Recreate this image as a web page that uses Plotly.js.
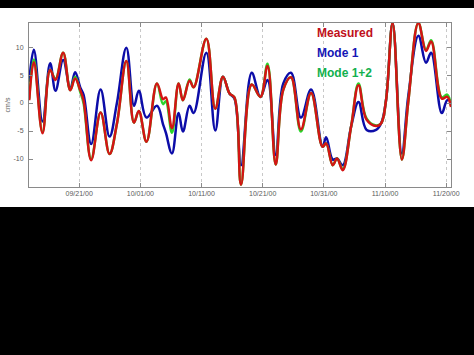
<!DOCTYPE html>
<html>
<head>
<meta charset="utf-8">
<script src="https://cdn.plot.ly/plotly-3.0.1.min.js"></script>
<style>html,body{margin:0;padding:0;background:#000;}#chart{width:474px;height:355px;}</style>
</head>
<body>
<div id="chart"></div>
<script>
// Time knots
const dates = [
"2000-09-12 20:00","2000-09-13 14:00","2000-09-15 00:00","2000-09-16 06:00","2000-09-17 03:00",
"2000-09-18 09:00","2000-09-19 13:00","2000-09-20 08:00","2000-09-21 04:00","2000-09-21 17:00",
"2000-09-22 23:00","2000-09-24 12:00","2000-09-25 23:00","2000-09-27 04:00","2000-09-28 17:00",
"2000-09-29 23:00","2000-09-30 18:00","2000-10-02 00:00","2000-10-03 17:00","2000-10-04 17:00",
"2000-10-05 04:00","2000-10-06 04:00","2000-10-07 06:00","2000-10-07 23:00","2000-10-09 01:00",
"2000-10-09 17:00","2000-10-11 19:00","2000-10-13 06:00","2000-10-14 12:00","2000-10-15 14:00",
"2000-10-16 09:00","2000-10-17 11:00","2000-10-19 05:00","2000-10-20 15:00","2000-10-21 19:00",
"2000-10-23 03:00","2000-10-24 09:00","2000-10-25 15:00","2000-10-27 06:00","2000-10-28 22:00",
"2000-10-30 19:00","2000-10-31 09:00","2000-11-01 11:00","2000-11-02 04:00","2000-11-03 02:00",
"2000-11-04 11:00","2000-11-05 16:00","2000-11-07 00:00","2000-11-08 13:00","2000-11-09 09:00",
"2000-11-10 04:00","2000-11-11 06:00","2000-11-12 18:00","2000-11-13 20:00","2000-11-15 11:00",
"2000-11-16 17:00","2000-11-17 13:00","2000-11-19 07:00","2000-11-20 04:00","2000-11-20 19:00"];

const measured = [0.5,7.3,-5.4,5.9,4.1, 9.0,2.3,4.4,2.3,0.5, -10.2,-1.7,-9.1,-3.7,7.5,
 -3.5,-1.4,-6.9,3.5,0.7, 1.0,-4.5,3.5,0.5,4.0, 2.8,11.5,-1.0,4.7,1.7,
 1.0,-14.6,3.3,1.1,6.6, -11.0,2.4,4.6,-4.7,1.8, -7.8,-7.2,-11.1,-9.9,-12.0,
 -4.2,3.2,-3.0,-4.1,-3.6, 0.5,14.3,-10.1,0.5,14.3, 9.3,11.0,0.8,1.1,-0.7];

const mode1 = [3.8,9.5,-3.3,7.1,2.2, 7.7,2.6,5.5,2.8,1.5, -7.3,2.4,-6.0,0.0,9.9,
 -0.5,2.2,-2.6,-0.5,-3.8, -5.3,-9.0,-1.8,-5.1,-0.5, -1.8,9.0,-4.9,4.7,1.7,
 0.8,-11.1,5.4,1.1,4.1, -9.3,3.5,5.4,-2.6,2.4, -7.8,-6.1,-10.1,-9.9,-11.1,
 -4.2,0.2,-4.8,-4.8,-3.6, 0.5,14.3,-9.0,1.5,12.0, 7.2,9.0,-1.8,0.5,0.4];

const mode12 = [0.8,7.8,-5.2,5.9,4.3, 9.0,2.3,4.7,2.0,0.0, -10.0,-1.7,-9.1,-3.7,7.5,
 -3.5,-1.4,-6.9,3.5,-0.2, 0.3,-5.3,3.5,0.5,4.2, 2.8,11.5,-1.0,4.7,1.7,
 1.0,-14.6,3.3,1.1,7.0, -11.0,2.4,4.6,-5.1,1.8, -7.8,-7.2,-11.1,-9.9,-11.8,
 -4.2,3.5,-2.8,-4.0,-3.6, 0.5,14.3,-10.1,0.5,14.3, 9.5,11.2,1.0,1.5,-0.5];

const xTickVals = ["2000-09-21","2000-10-01","2000-10-11","2000-10-21","2000-10-31","2000-11-10","2000-11-20"];
const xTickText = ["09/21/00","10/01/00","10/11/00","10/21/00","10/31/00","11/10/00","11/20/00"];
const yTickVals = [-10,-5,0,5,10];
const yTickText = ["-10","-5","0","5","10"];
const seriesNames = ["Measured","Mode 1","Mode 1+2"];

const cRed = "#d41414", cBlue = "#0c0ca8", cGreen = "#2ad42a";

function tr(y, name, color) {
  return {x: dates, y: y, name: name, type: "scatter", mode: "lines",
    line: {color: color, width: 2.5, shape: "spline", smoothing: 1.1},
    hoverinfo: "skip", showlegend: false};
}

const data = [tr(mode1, seriesNames[1], cBlue), tr(mode12, seriesNames[2], cGreen), tr(measured, seriesNames[0], cRed)];

const axisCommon = {showline: true, linecolor: "#8a8a8a", linewidth: 1, mirror: "ticks",
  ticks: "inside", ticklen: 4, tickcolor: "#8a8a8a", zeroline: false,
  tickfont: {family: "Liberation Sans, Arial, sans-serif", size: 7, color: "#5a5a5a"}};

const layout = {
  width: 474, height: 355,
  paper_bgcolor: "#000000", plot_bgcolor: "#ffffff",
  margin: {l: 29, r: 23, t: 23, b: 168},
  xaxis: Object.assign({}, axisCommon, {type: "date",
    range: ["2000-09-12 19:00", "2000-11-20 19:00"],
    tickmode: "array", tickvals: xTickVals, ticktext: xTickText,
    showgrid: true, gridcolor: "#c8c8c8", griddash: "dot", gridwidth: 1}),
  yaxis: Object.assign({}, axisCommon, {range: [-15, 14.3],
    tickmode: "array", tickvals: yTickVals, ticktext: yTickText, showgrid: false,
    ticklabelstandoff: 3,
    title: {text: "cm/s", standoff: 2, font: {family: "Liberation Sans, Arial, sans-serif", size: 7, color: "#5a5a5a"}}}),
  shapes: [{type: "rect", xref: "paper", yref: "paper", x0: -0.07, x1: 1.06, y0: -0.122, y1: 1.0915,
    fillcolor: "#ffffff", line: {width: 0}, layer: "below"}],
  annotations: [
    {text: "<b>" + seriesNames[0] + "</b>", font: {color: "#c0101a"}},
    {text: "<b>" + seriesNames[1] + "</b>", font: {color: "#1515b5"}},
    {text: "<b>" + seriesNames[2] + "</b>", font: {color: "#12b04e"}}
  ].map((a, i) => ({text: a.text, xref: "paper", yref: "paper", x: 0.678, y: [0.939, 0.817, 0.695][i],
    xanchor: "left", yanchor: "middle", showarrow: false,
    font: {family: "Liberation Sans, Arial, sans-serif", size: 12, color: a.font.color}}))
};

Plotly.newPlot("chart", data, layout, {displayModeBar: false, staticPlot: true});
</script>
</body>
</html>
